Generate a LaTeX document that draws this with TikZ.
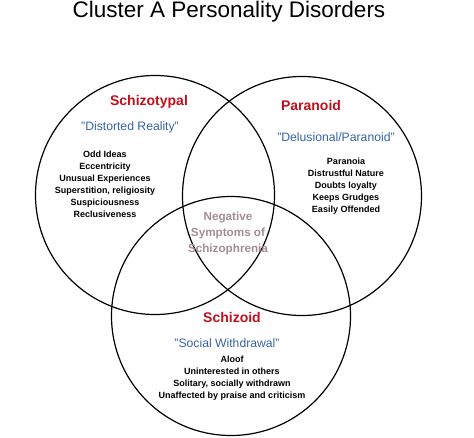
\documentclass[tikz,border=0pt]{standalone}
\usepackage{fontspec}
\setmainfont{Liberation Sans}
\usepackage{xcolor}
\usepackage{tikz}
\definecolor{typered}{HTML}{C0101C}
\definecolor{mottoblue}{HTML}{3563A8}
\definecolor{overlap}{HTML}{A48C94}

\begin{document}
\begin{tikzpicture}[
    x=1pt,y=-1pt,
    ring/.style={circle,draw,line width=1.2pt,minimum size=239pt,inner sep=0pt},
    grp/.style={font=\fontsize{14}{16}\selectfont\bfseries,text=typered},
    motto/.style={font=\fontsize{12.2}{14}\selectfont,text=mottoblue},
    traits/.style={font=\fontsize{9}{12}\selectfont\bfseries,align=center,inner sep=0pt},
    core/.style={font=\fontsize{11.7}{16}\selectfont\bfseries,text=overlap,align=center,inner sep=0pt}
  ]
    \useasboundingbox (0,0) rectangle (474,437);

    \node[font=\fontsize{22.5}{26}\selectfont,anchor=base,inner sep=0pt] (title) at (229,17) {Cluster A Personality Disorders};

    % the three clusters
    \node[ring] (typal) at (155,195) {};
    \node[ring] (para) at (302,196) {};
    \node[ring] (oid) at (231,316) {};

    % Schizotypal
    \node[grp] (typalname) at (149,102) {Schizotypal};
    \node[motto] (typalmotto) at (130,127) {"Distorted Reality"};
    \node[traits] (typallist) at (105,184) {Odd Ideas\\Eccentricity\\Unusual Experiences\\Superstition, religiosity\\Suspiciousness\\Reclusiveness};

    % Paranoid
    \node[grp] (paraname) at (311,105) {Paranoid};
    \node[motto] (paramotto) at (336,137) {"Delusional/Paranoid"};
    \node[traits] (paralist) at (346,186) {Paranoia\\Distrustful Nature\\Doubts loyalty\\Keeps Grudges\\Easily Offended};

    % Schizoid
    \node[grp] (oidname) at (232,317) {Schizoid};
    \node[motto] (oidmotto) at (227,343) {"Social Withdrawal"};
    \node[traits] (oidlist) at (232,378) {Aloof\\Uninterested in others\\Solitary, socially withdrawn\\Unaffected by praise and criticism};

    \node[core] (negative) at (228,233) {Negative\\Symptoms of\\Schizophrenia};
\end{tikzpicture}
\end{document}
